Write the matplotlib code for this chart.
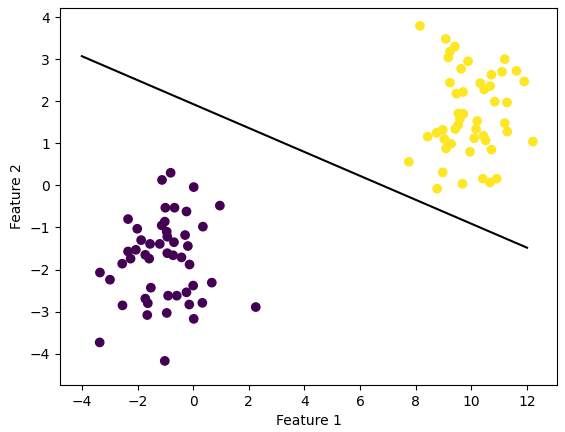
import numpy as np
import matplotlib
matplotlib.use("Agg")
import matplotlib.pyplot as plt

# class 0 points
x0 = [-0.81, -1.12, 0.02, 0.96, -1.0, -0.67, -0.24, -2.34, 0.35, -2.01, -1.02, -1.13, -0.95,
      -0.93, -0.29, -1.87, -1.55, -1.20, -0.69, -0.19, -2.06, -2.34, -0.93, -0.72, -1.72,
      -1.58, -2.25, -2.55, -0.42, -0.13, -3.35, -2.99, 0.67, -1.52, 0.0, -0.24, -0.90,
      -0.59, -1.72, -1.63, -2.54, -0.14, 0.33, 2.25, -1.65, -0.95, 0.02, -3.36, -1.02]
y0 = [0.30, 0.13, -0.04, -0.48, -0.53, -0.53, -0.62, -0.80, -0.98, -1.03, -0.86, -0.95, -1.10,
      -1.22, -1.18, -1.30, -1.39, -1.39, -1.35, -1.44, -1.53, -1.57, -1.61, -1.66, -1.65,
      -1.74, -1.74, -1.86, -1.71, -1.88, -2.07, -2.24, -2.31, -2.43, -2.38, -2.54, -2.62,
      -2.62, -2.69, -2.80, -2.85, -2.83, -2.79, -2.89, -3.08, -3.03, -3.17, -3.73, -4.17]
# class 1 points
x1 = [8.15, 9.08, 9.41, 9.23, 9.17, 9.88, 9.63, 11.20, 11.10, 11.62, 10.72, 11.90, 9.23,
      10.32, 10.67, 10.46, 9.70, 9.46, 10.84, 11.28, 9.53, 9.71, 9.59, 10.21, 11.20, 9.53,
      9.42, 10.17, 11.29, 8.97, 8.75, 8.43, 10.43, 10.51, 10.10, 9.03, 9.27, 9.09, 12.21,
      10.72, 9.95, 7.75, 8.97, 10.41, 10.67, 10.91, 9.68, 8.77]
y1 = [3.79, 3.48, 3.30, 3.18, 3.04, 2.95, 2.77, 3.0, 2.70, 2.72, 2.63, 2.47, 2.44,
      2.43, 2.36, 2.28, 2.22, 2.18, 1.99, 1.97, 1.71, 1.70, 1.59, 1.53, 1.48, 1.44,
      1.34, 1.34, 1.28, 1.32, 1.25, 1.16, 1.18, 1.07, 1.12, 1.10, 0.99, 0.88, 1.04,
      0.85, 0.80, 0.56, 0.31, 0.16, 0.07, 0.16, 0.04, -0.08]

# decision boundary endpoints
line_x = [-4, 12]
line_y = [3.07, -1.48]

xs = np.array(x0 + x1)
ys = np.array(y0 + y1)
labels = np.array([0] * len(x0) + [1] * len(x1))

fig = plt.figure(figsize=(5.65, 4.32), dpi=100)
plt.subplots_adjust(left=0.106, right=0.986, top=0.981, bottom=0.109)
plt.scatter(xs, ys, c=labels, cmap="viridis")
plt.plot(line_x, line_y, color="black")
plt.xlim(-4.79, 13.08)
plt.ylim(-4.74, 4.21)
plt.xlabel("Feature 1"); plt.ylabel("Feature 2")
fig.savefig("out.png")
